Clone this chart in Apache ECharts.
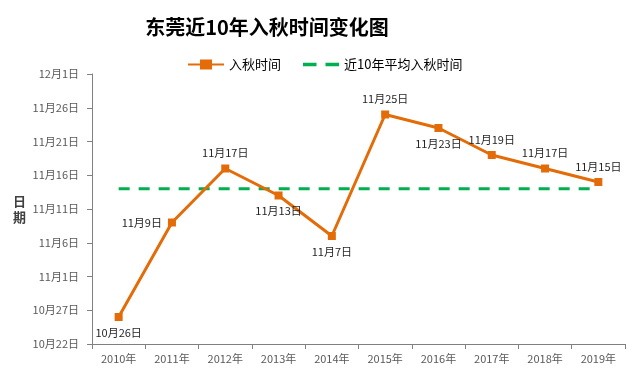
<!DOCTYPE html>
<html><head><meta charset="utf-8">
<script src="https://cdn.jsdelivr.net/npm/echarts@6/dist/echarts.min.js"></script>
<style>html,body{margin:0;padding:0;background:#fff}#c{width:637px;height:391px}</style>
</head><body><div id="c"></div>
<script>
// categories
const years = ['2010年','2011年','2012年','2013年','2014年','2015年','2016年','2017年','2018年','2019年'];
// days after 10月22日
const autumnDays = [4, 18, 26, 22, 16, 34, 32, 28, 26, 24];
const avgDays = [23, 23, 23, 23, 23, 23, 23, 23, 23, 23];
// y tick labels (every 5 days from 10月22日)
const yTickLabels = ['10月22日','10月27日','11月1日','11月6日','11月11日','11月16日','11月21日','11月26日','12月1日'];
const labelPos = ['bottom','left','top','bottom','bottom','top','bottom','top','top','top'];

function dayText(d){
  return d <= 9 ? '10月' + (22 + d) + '日' : (d >= 40 ? '12月' + (d - 39) + '日' : '11月' + (d - 9) + '日');
}
const font = '"Microsoft YaHei","Noto Sans CJK SC",sans-serif';
const chart = echarts.init(document.getElementById('c'), null, {renderer:'canvas'});
chart.setOption({
  animation:false,
  title:{text:'东莞近10年入秋时间变化图', left:262, textAlign:'center', top:12,
    textStyle:{fontSize:20, fontWeight:'bold', color:'#000', fontFamily:font}},
  legend:{top:53, left:183, itemGap:22, itemWidth:36, itemHeight:10,
    textStyle:{fontSize:13, color:'#000', fontFamily:font},
    data:[{name:'入秋时间', icon:'path://M0,4 L12,4 L12,0 L24,0 L24,4 L36,4 L36,6 L24,6 L24,10 L12,10 L12,6 L0,6 Z'},
          {name:'近10年平均入秋时间', icon:'path://M0,4 L12,4 L12,7 L0,7 Z M20,4 L32,4 L32,7 L20,7 Z'}]},
  grid:{left:92, right:12, top:74, bottom:47},
  xAxis:{type:'category', data:years, boundaryGap:true,
    axisLine:{lineStyle:{color:'#808080', width:1}},
    axisTick:{show:true, length:5, lineStyle:{color:'#808080'}},
    axisLabel:{color:'#595959', fontSize:11, margin:9, fontFamily:font}},
  yAxis:{type:'value', min:0, max:40, interval:5, name:'日\n期', nameLocation:'middle', nameGap:66, nameRotate:0,
    nameTextStyle:{fontSize:13, fontWeight:'bold', color:'#404040', fontFamily:font, lineHeight:16},
    axisLine:{show:true, lineStyle:{color:'#808080'}},
    axisTick:{show:true, length:5, lineStyle:{color:'#808080'}},
    splitLine:{show:false},
    axisLabel:{color:'#595959', fontSize:11, margin:13, fontFamily:font,
      formatter:(v)=>yTickLabels[Math.round(v/5)]}},
  series:[
    {name:'入秋时间', type:'line', data:autumnDays.map((v,i)=>({value:v, label:{position:labelPos[i]}})),
      symbol:'rect', symbolSize:8, itemStyle:{color:'#E36C09'},
      lineStyle:{color:'#E36C09', width:3},
      label:{show:true, formatter:(p)=>dayText(p.value), color:'#262626', fontSize:11, fontFamily:font, distance:6},
      z:3},
    {name:'近10年平均入秋时间', type:'line', data:avgDays, symbol:'none',
      itemStyle:{color:'#00B050'},
      lineStyle:{color:'#00B050', width:3, type:[11,9]}, z:2}
  ]
});
</script></body></html>
